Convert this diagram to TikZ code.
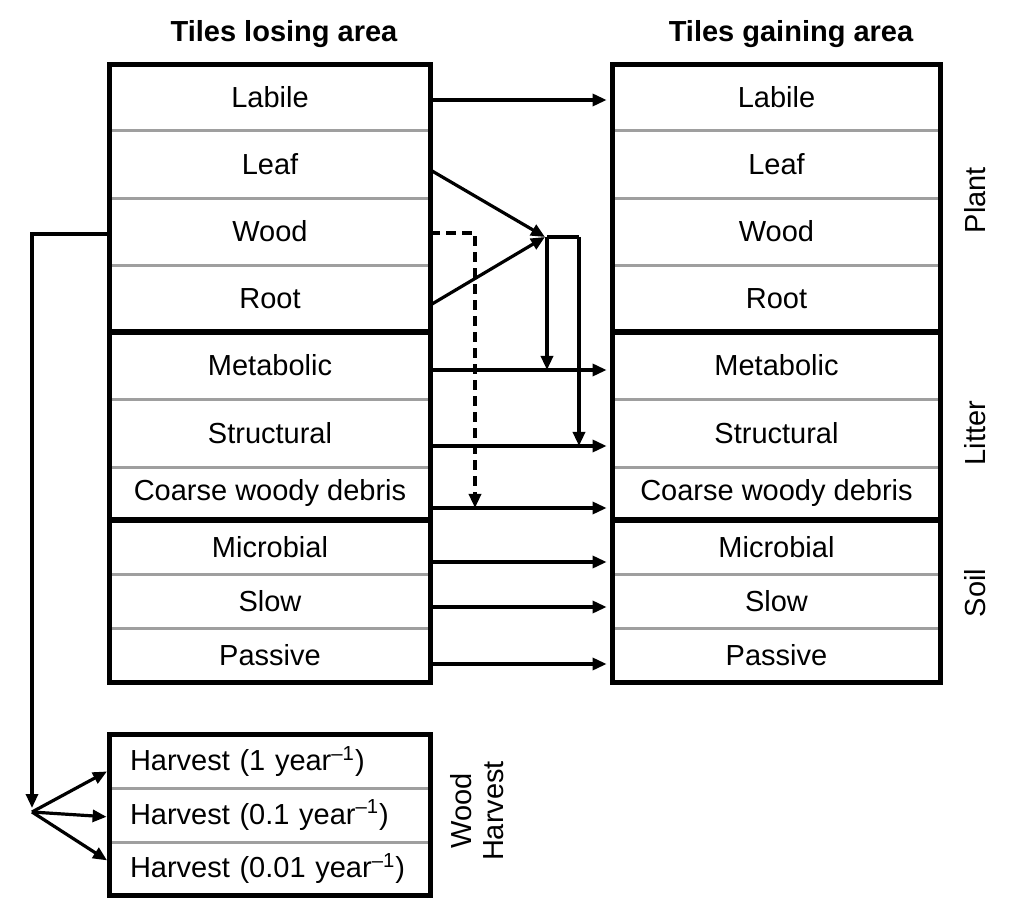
\documentclass[tikz,border=0pt]{standalone}
\usepackage{fontspec}
\setmainfont{Liberation Sans}
\usepackage{tikz}
\usetikzlibrary{arrows.meta, positioning, calc}

\begin{document}
\begin{tikzpicture}[
    x=0.5pt, y=-0.5pt,
    pool/.style={rectangle, inner sep=0pt, minimum width=160pt, font=\fontsize{14.5}{17}\selectfont, align=center},
    rpool/.style={pool, minimum width=163.5pt},
    hpool/.style={pool, text width=140pt, inner xsep=10pt, align=left},
    sep/.style={draw=gray!75, line width=1.3pt},
    frame/.style={draw=black, line width=2.6pt},
    arr/.style={-{Triangle[length=7pt, width=6pt]}, line width=1.6pt},
    flow/.style={arr, shorten >=3pt},
    tag/.style={rotate=90, font=\fontsize{14.5}{16}\selectfont, align=center},
    head/.style={font=\bfseries\fontsize{14.5}{17}\selectfont}
]
\useasboundingbox (0,0) rectangle (1012,903);

\node[head] (hLose) at (284,34) {Tiles losing area};
\node[head] (hGain) at (791,34) {Tiles gaining area};

\node[pool, minimum height=32.5pt] (lLabile) at (270,97.5) {Labile};
\node[pool, minimum height=34pt] (lLeaf) at (270,164) {Leaf};
\node[pool, minimum height=33.5pt] (lWood) at (270,231.5) {Wood};
\node[pool, minimum height=33.5pt] (lRoot) at (270,298.5) {Root};
\node[pool, minimum height=33.5pt] (lMeta) at (270,365.5) {Metabolic};
\node[pool, minimum height=34pt] (lStruc) at (270,433) {Structural};
\node[pool, minimum height=26.5pt] (lCwd) at (270,493.5) {Coarse woody debris};
\node[pool, minimum height=27pt] (lMicro) at (270,547) {Microbial};
\node[pool, minimum height=27pt] (lSlow) at (270,601) {Slow};
\node[pool, minimum height=27pt] (lPass) at (270,655) {Passive};

\node[rpool, minimum height=32.5pt] (rLabile) at (776.5,97.5) {Labile};
\node[rpool, minimum height=34pt] (rLeaf) at (776.5,164) {Leaf};
\node[rpool, minimum height=33.5pt] (rWood) at (776.5,231.5) {Wood};
\node[rpool, minimum height=33.5pt] (rRoot) at (776.5,298.5) {Root};
\node[rpool, minimum height=33.5pt] (rMeta) at (776.5,365.5) {Metabolic};
\node[rpool, minimum height=34pt] (rStruc) at (776.5,433) {Structural};
\node[rpool, minimum height=26.5pt] (rCwd) at (776.5,493.5) {Coarse woody debris};
\node[rpool, minimum height=27pt] (rMicro) at (776.5,547) {Microbial};
\node[rpool, minimum height=27pt] (rSlow) at (776.5,601) {Slow};
\node[rpool, minimum height=27pt] (rPass) at (776.5,655) {Passive};

\foreach \n in {Labile, Leaf, Wood, Meta, Struc, Micro, Slow}
    \draw[sep] (l\n.south west) -- (l\n.south east) (r\n.south west) -- (r\n.south east);

\draw[frame] (lLabile.north west) rectangle (lRoot.south east);
\draw[frame] (lMeta.north west) rectangle (lCwd.south east);
\draw[frame] (lMicro.north west) rectangle (lPass.south east);
\draw[frame] (rLabile.north west) rectangle (rRoot.south east);
\draw[frame] (rMeta.north west) rectangle (rCwd.south east);
\draw[frame] (rMicro.north west) rectangle (rPass.south east);

\node[tag] (tPlant) at (975,200) {Plant};
\node[tag] (tLitter) at (975,433) {Litter};
\node[tag] (tSoil) at (975,593) {Soil};

\node[hpool, minimum height=26.5pt] (hv1) at (270,761.5) {\mbox{Harvest (1 year\textsuperscript{\textendash1})}};
\node[hpool, minimum height=27pt] (hv2) at (270,815) {\mbox{Harvest (0.1 year\textsuperscript{\textendash1})}};
\node[hpool, minimum height=26.5pt] (hv3) at (270,868.5) {\mbox{Harvest (0.01 year\textsuperscript{\textendash1})}};
\draw[sep] (hv1.south west) -- (hv1.south east) (hv2.south west) -- (hv2.south east);
\draw[frame] (hv1.north west) rectangle (hv3.south east);
\node[tag] (tHarv) at (477,811) {Wood\\Harvest};

\coordinate (aLab) at ([yshift=-1.25pt]lLabile.east);
\coordinate (aMeta) at ([yshift=-2.25pt]lMeta.east);
\coordinate (aStruc) at ([yshift=-6.5pt]lStruc.east);
\coordinate (aCwd) at ([yshift=-7.25pt]lCwd.east);
\coordinate (aMicro) at ([yshift=-7.5pt]lMicro.east);
\coordinate (aSlow) at ([yshift=-3pt]lSlow.east);
\coordinate (aPass) at ([yshift=-4.5pt]lPass.east);

\draw[flow] (aLab) -- (aLab -| rLabile.west);
\draw[flow] (aMeta) -- (aMeta -| rMeta.west);
\draw[flow] (aStruc) -- (aStruc -| rStruc.west);
\draw[flow] (aCwd) -- (aCwd -| rCwd.west);
\draw[flow] (aMicro) -- (aMicro -| rMicro.west);
\draw[flow] (aSlow) -- (aSlow -| rSlow.west);
\draw[flow] (aPass) -- (aPass -| rPass.west);

\coordinate (jn) at (545,237);
\coordinate (jm) at (547,237);
\coordinate (jr) at (579,237);
\draw[arr] ([yshift=-3pt]lLeaf.east) -- (jn);
\draw[arr] ([yshift=-3.25pt]lRoot.east) -- (jn);
\draw[line width=1.6pt] (jm) -- (jr);
\draw[arr] (jm) -- (jm |- aMeta);
\draw[arr] (jr) -- (jr |- aStruc);

\coordinate (dDrop) at (475,233);
\draw[arr, dash pattern=on 5pt off 3pt] ([yshift=-0.75pt]lWood.east) -- (dDrop) -- (dDrop |- aCwd);

\coordinate (fork) at (32,812);
\draw[arr, shorten >=2pt] ([yshift=-1.25pt]lWood.west) -| (fork);
\draw[arr, shorten >=1.5pt] (fork) -- ([yshift=-4.25pt]hv1.west);
\draw[arr, shorten >=1.5pt] (fork) -- ([yshift=-1pt]hv2.west);
\draw[arr, shorten >=1.5pt] (fork) -- ([yshift=3.25pt]hv3.west);
\end{tikzpicture}
\end{document}
